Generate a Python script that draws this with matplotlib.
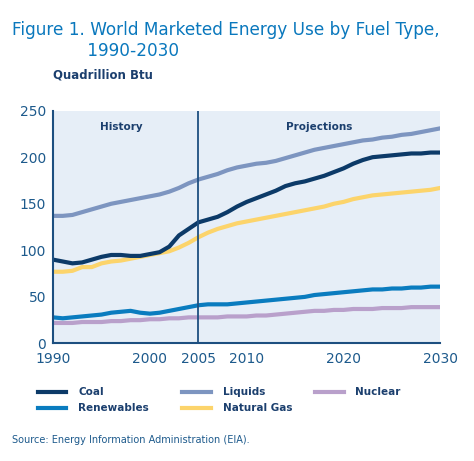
import matplotlib
matplotlib.use("Agg")
import matplotlib.pyplot as plt
from matplotlib.lines import Line2D

years = list(range(1990, 2031))
coal = [90,88,86,87,90,93,95,95,94,94,96,98,104,116,123,130,133,136,141,147,152,156,160,164,169,172,174,177,180,184,188,193,197,200,201,202,203,204,204,205,205]
liquids = [137,137,138,141,144,147,150,152,154,156,158,160,163,167,172,176,179,182,186,189,191,193,194,196,199,202,205,208,210,212,214,216,218,219,221,222,224,225,227,229,231]
gas = [77,77,78,82,82,86,88,89,91,93,95,97,99,103,108,114,119,123,126,129,131,133,135,137,139,141,143,145,147,150,152,155,157,159,160,161,162,163,164,165,167]
renew = [28,27,28,29,30,31,33,34,35,33,32,33,35,37,39,41,42,42,42,43,44,45,46,47,48,49,50,52,53,54,55,56,57,58,58,59,59,60,60,61,61]
nuclear = [22,22,22,23,23,23,24,24,25,25,26,26,27,27,28,28,28,28,29,29,29,30,30,31,32,33,34,35,35,36,36,37,37,37,38,38,38,39,39,39,39]
xticks = [1990, 2000, 2005, 2010, 2020, 2030]
yticks = [0, 50, 100, 150, 200, 250]

C = {"Coal": "#0c3a68", "Liquids": "#7d95c0", "Nuclear": "#b9a0cb",
     "Renewables": "#0a7cbf", "Natural Gas": "#fcd46b"}
txt = "#1b3f6e"

fig = plt.figure(figsize=(4.74, 4.61), dpi=100)
ax = fig.add_axes([0.112, 0.255, 0.817, 0.505])
ax.set_facecolor("#e6eef7")
series = [("Nuclear", nuclear), ("Renewables", renew), ("Natural Gas", gas), ("Coal", coal), ("Liquids", liquids)]
for name, vals in series:
    ax.plot(years, vals, color=C[name], lw=3, solid_capstyle="round")
ax.axvline(2005, color="#1d4f80", lw=1.3)
ax.set_xlim(1990, 2030); ax.set_ylim(0, 250)
ax.set_xticks(xticks); ax.set_yticks(yticks)
ax.tick_params(colors="#1d5a8c", labelsize=10, length=0)
ax.tick_params(axis="x", pad=6)
ax.tick_params(axis="y", pad=5)
for s in ["top", "right"]:
    ax.spines[s].set_visible(False)
for s in ["left", "bottom"]:
    ax.spines[s].set_color("#1d4f80"); ax.spines[s].set_linewidth(1.5)
ax.text(1997, 238, "History", ha="center", va="top", fontsize=7.5, fontweight="bold", color=txt)
ax.text(2017.5, 238, "Projections", ha="center", va="top", fontsize=7.5, fontweight="bold", color=txt)

fig.text(0.025, 0.955, "Figure 1. World Marketed Energy Use by Fuel Type,\n              1990-2030",
         fontsize=12.2, color="#0a78bd", va="top", linespacing=1.25)
fig.text(0.112, 0.83, "Quadrillion Btu", fontsize=8.5, fontweight="bold", color=txt)

legend_items = [("Coal", 0.08, 0.15), ("Liquids", 0.385, 0.15), ("Nuclear", 0.665, 0.15),
                ("Renewables", 0.08, 0.115), ("Natural Gas", 0.385, 0.115)]
for name, x, y in legend_items:
    fig.add_artist(Line2D([x, x + 0.06], [y, y], color=C[name], lw=3, transform=fig.transFigure))
    fig.text(x + 0.085, y, name, fontsize=7.5, fontweight="bold", color=txt, va="center")
fig.text(0.025, 0.04, "Source: Energy Information Administration (EIA).", fontsize=7, color="#1d5a8c")
fig.savefig("out.png", dpi=100, facecolor="white")
